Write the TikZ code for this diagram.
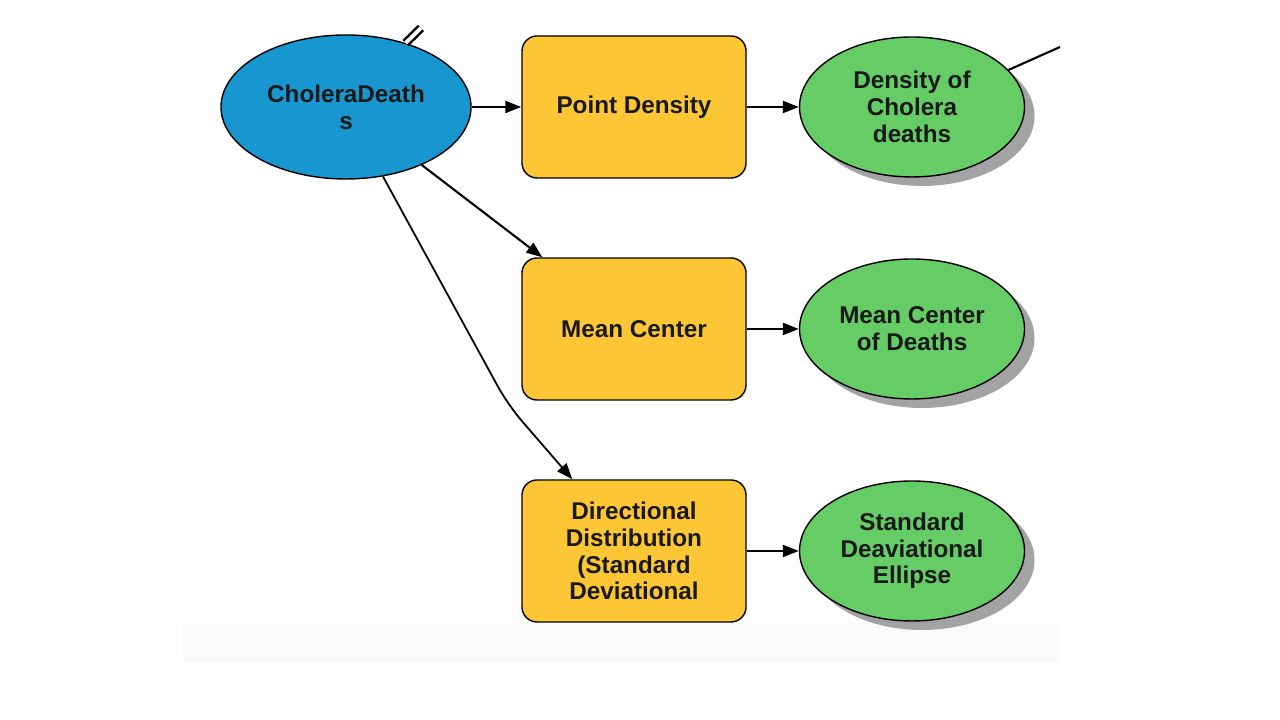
\documentclass[tikz,border=0pt]{standalone}
\usepackage{fontspec}
\setmainfont{Liberation Sans}
\usetikzlibrary{arrows.meta,shapes.geometric,shadows}

\definecolor{modelblue}{RGB}{24,150,208}
\definecolor{modelyellow}{RGB}{252,198,52}
\definecolor{modelgreen}{RGB}{102,204,102}

\begin{document}
\begin{tikzpicture}[
        every node/.style={font=\fontsize{6.9}{7.6}\selectfont\bfseries, text=black!90, align=center},
        indata/.style={ellipse, draw, line width=0.4pt, fill=modelblue,
            minimum width=2.5cm, minimum height=1.44cm, inner sep=0pt},
        tool/.style={rectangle, rounded corners=0.15cm, draw, line width=0.4pt, fill=modelyellow,
            minimum width=2.24cm, minimum height=1.42cm, inner sep=0pt},
        outdata/.style={ellipse, draw, line width=0.4pt, fill=modelgreen,
            minimum width=2.25cm, minimum height=1.40cm, inner sep=0pt,
            drop shadow={shadow xshift=0.1cm, shadow yshift=-0.09cm, fill=black!36, opacity=1}},
        flow/.style={-{Triangle[length=1.6mm,width=1.2mm]}, line width=0.6pt}
    ]
        \useasboundingbox (0,0) rectangle (12.8,7.2);

        % faint strip under the model panel
        \fill[black!2] (1.83,0.58) rectangle (10.6,0.97);

        % Draw input and tools
        \node[indata] (deaths) at (3.46,6.13) {CholeraDeath\\s};
        \node[tool] (pdens) at (6.34,6.13) {Point Density};
        \node[tool] (mcenter) at (6.34,3.91) {Mean Center};
        \node[tool] (dirdist) at (6.34,1.69) {Directional\\Distribution\\(Standard\\Deviational};

        % Draw outputs
        \node[outdata] (densout) at (9.12,6.13) {Density of\\Cholera\\deaths};
        \node[outdata] (mcout) at (9.12,3.91) {Mean Center\\of Deaths};
        \node[outdata] (sdeout) at (9.12,1.69) {Standard\\Deaviational\\Ellipse};

        \coordinate (bend) at (5.08,3.15);
        \coordinate (topcut) at (4.21,6.92);
        \coordinate (rightcut) at (10.6,6.73);

        \draw[flow] (deaths) -- (pdens);
        \draw[flow] (deaths) -- ([xshift=0.21cm]mcenter.north west);
        \draw[flow, line width=0.5pt, rounded corners=6pt] (deaths.-62) -- (bend) -- ([xshift=0.51cm]dirdist.north west);

        \draw[flow] (pdens) -- (densout);
        \draw[flow] (mcenter) -- (mcout);
        \draw[flow] (dirdist) -- (sdeout);

        % links leaving the panel
        \draw[double, double distance=1.1pt, line width=0.7pt] (deaths.47) -- (topcut);
        \draw[line width=0.6pt] (densout.21) -- (rightcut);
    \end{tikzpicture}
\end{document}
